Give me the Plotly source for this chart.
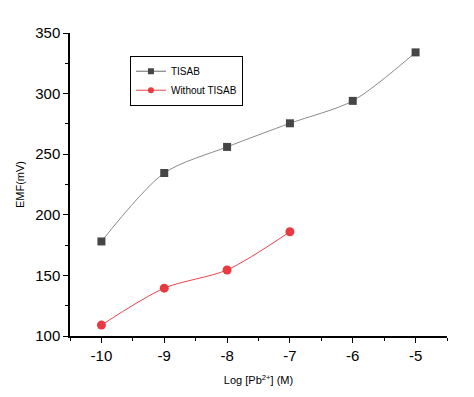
import plotly.graph_objects as go

x_tisab = [-10, -9, -8, -7, -6, -5]
y_tisab = [178, 234.5, 256, 275.5, 294, 334]
x_without = [-10, -9, -8, -7]
y_without = [109, 139.5, 154.5, 186]

fig = go.Figure()
fig.add_trace(go.Scatter(
    x=x_tisab, y=y_tisab, mode="lines+markers", name="TISAB", showlegend=False,
    line=dict(color="#8a8a8a", width=1, shape="spline", smoothing=0.8),
    marker=dict(symbol="square", size=8, color="#464646"),
))
fig.add_trace(go.Scatter(
    x=x_without, y=y_without, mode="lines+markers", name="Without TISAB", showlegend=False,
    line=dict(color="#e8434a", width=1, shape="spline", smoothing=0.8),
    marker=dict(symbol="circle", size=9, color="#e83a40"),
))
# legend-only entries with smaller symbols, like the reference legend
fig.add_trace(go.Scatter(
    x=[None], y=[None], mode="lines+markers", name="TISAB",
    line=dict(color="#6a6a6a", width=1),
    marker=dict(symbol="square", size=6, color="#464646"),
))
fig.add_trace(go.Scatter(
    x=[None], y=[None], mode="lines+markers", name="Without TISAB",
    line=dict(color="#e8434a", width=1),
    marker=dict(symbol="circle", size=6, color="#e83a40"),
))

axis_common = dict(
    showline=True, linecolor="black", linewidth=1.5, mirror=False,
    ticks="outside", ticklen=5, tickwidth=1.2, tickcolor="black",
    showgrid=False, zeroline=False,
    tickfont=dict(family="Liberation Sans, Arial", size=15, color="black"),
)

fig.update_layout(
    width=474, height=397,
    margin=dict(l=62, r=35, t=25, b=69),
    paper_bgcolor="white", plot_bgcolor="white",
    font=dict(family="Liberation Sans, Arial", color="black"),
    xaxis=dict(range=[-10.5, -4.5], tickvals=[-10, -9, -8, -7, -6, -5],
               ticktext=["-10", "-9", "-8", "-7", "-6", "-5"],
               minor=dict(ticks="outside", ticklen=3, tickcolor="black", dtick=0.5, tick0=-10),
               title=dict(text="Log [Pb<sup>2+</sup>] (M)", font=dict(size=11), standoff=14),
               **axis_common),
    yaxis=dict(range=[100, 350], dtick=50,
               minor=dict(ticks="outside", ticklen=3, tickcolor="black", dtick=25),
               title=dict(text="EMF(mV)", font=dict(size=11), standoff=8),
               **axis_common),
    legend=dict(x=0.159, y=0.925, xanchor="left", yanchor="top",
                bordercolor="black", borderwidth=1, bgcolor="white",
                font=dict(size=10), tracegroupgap=0, itemwidth=30),
    showlegend=True,
)

fig.write_html("out.html")
